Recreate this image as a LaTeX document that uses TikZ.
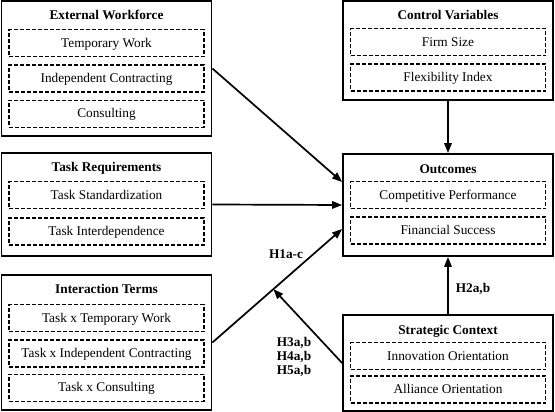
\documentclass[tikz,border=0pt]{standalone}
\usepackage{fontspec}
\setmainfont{Liberation Serif}
\usetikzlibrary{positioning, calc, arrows.meta}

\tikzset{
  grp/.style={draw, line width=1.8pt, minimum width=210pt, inner sep=0pt},
  item/.style={draw, dash pattern=on 4pt off 2pt, line width=1.3pt, minimum width=195pt,
    minimum height=27pt, inner sep=0pt, text height=10pt, text depth=2pt,
    font=\fontsize{13.3}{15}\selectfont},
  ttl/.style={font=\fontsize{13.3}{15}\selectfont\bfseries, inner sep=0pt, text height=10pt, text depth=2pt},
  lbl/.style={font=\fontsize{13.3}{14}\selectfont\bfseries, align=center, inner sep=0pt},
  arr/.style={line width=1.7pt, -{Triangle[length=10pt, width=7.5pt]}},
}

\begin{document}
\begin{tikzpicture}[x=1pt, y=1pt]
\useasboundingbox (0,0) rectangle (555,412);

% External Workforce
\node[grp, minimum height=135pt] (ew) at (106.5,343.5) {};
\node[ttl] (ewt) at ([yshift=-15pt]ew.north) {External Workforce};
\node[item, below=29pt of ew.north] (ew1) {Temporary Work};
\node[item, below=7pt of ew1] (ew2) {Independent Contracting};
\node[item, below=7pt of ew2] (ew3) {Consulting};

% Control Variables
\node[grp, minimum height=99pt] (cv) at (448,361.5) {};
\node[ttl] (cvt) at ([yshift=-15pt]cv.north) {Control Variables};
\node[item, below=28pt of cv.north] (cv1) {Firm Size};
\node[item, below=7pt of cv1] (cv2) {Flexibility Index};

% Task Requirements
\node[grp, minimum height=103pt] (tr) at (106.5,207.5) {};
\node[ttl] (trt) at ([yshift=-15pt]tr.north) {Task Requirements};
\node[item, below=29pt of tr.north] (tr1) {Task Standardization};
\node[item, below=8pt of tr1] (tr2) {Task Interdependence};

% Outcomes
\node[grp, minimum height=102pt] (out) at (448,207) {};
\node[ttl] (outt) at ([yshift=-16pt]out.north) {Outcomes};
\node[item, below=28pt of out.north] (out1) {Competitive Performance};
\node[item, below=7pt of out1] (out2) {Financial Success};

% Interaction Terms
\node[grp, minimum height=135pt] (it) at (106.5,69.5) {};
\node[ttl] (itt) at ([yshift=-15pt]it.north) {Interaction Terms};
\node[item, below=30pt of it.north] (it1) {Task x Temporary Work};
\node[item, below=7pt of it1] (it2) {Task x Independent Contracting};
\node[item, below=6pt of it2] (it3) {Task x Consulting};

% Strategic Context
\node[grp, minimum height=96pt] (sc) at (448,49) {};
\node[ttl] (sct) at ([yshift=-16pt]sc.north) {Strategic Context};
\node[item, below=28pt of sc.north] (sc1) {Innovation Orientation};
\node[item, below=5pt of sc1] (sc2) {Alliance Orientation};

% paths
\draw[arr] (ew.east) -- ([yshift=23pt]out.west);
\draw[arr] (tr.east) -- (out.west);
\draw[arr] (it.east) -- ([yshift=-24pt]out.west);
\coordinate (h1m) at ($(it.east)!0.47!([yshift=-24pt]out.west)$);
\draw[arr] (sc.west) -- (h1m);
\draw[arr] (cv.south) -- (out.north);
\draw[arr] (sc.north) -- (out.south);

\node[lbl] (h1) at (286,158) {H1a-c};
\node[lbl] (h2) at (473,123) {H2a,b};
\node[lbl] (h35) at (294,55) {H3a,b\\H4a,b\\H5a,b};
\end{tikzpicture}
\end{document}
